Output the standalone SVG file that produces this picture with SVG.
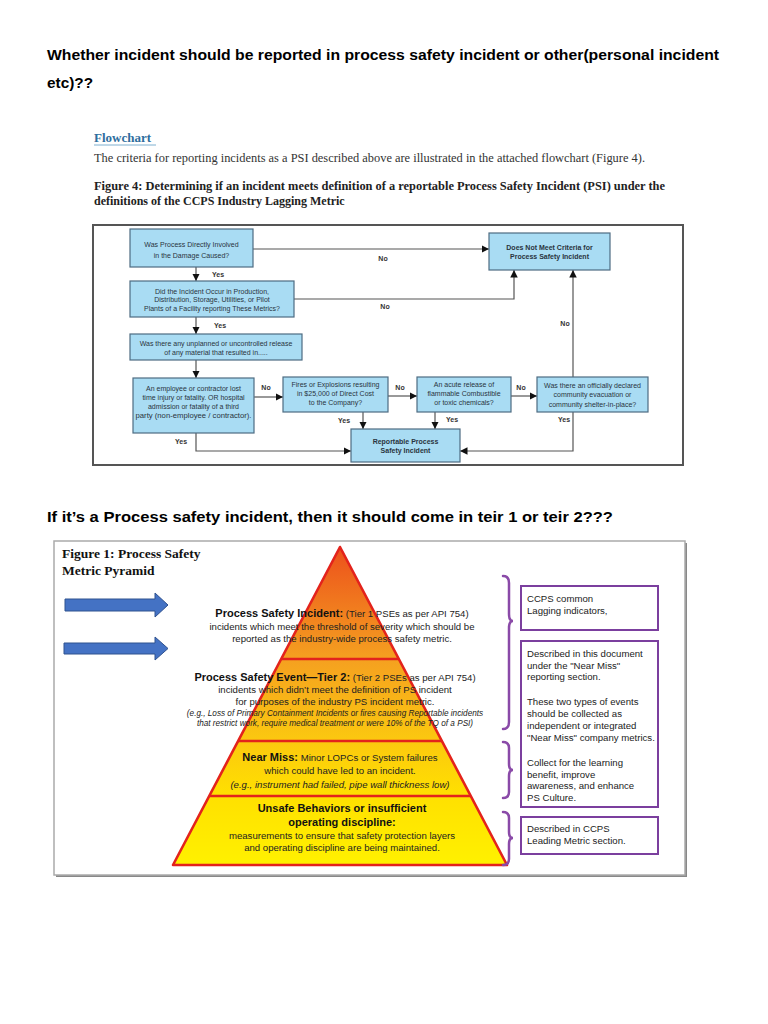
<svg xmlns="http://www.w3.org/2000/svg" width="768" height="1024" viewBox="0 0 768 1024">
<style>
.h{font-family:"Liberation Sans",Arial,sans-serif;font-weight:bold;font-size:15px;fill:#000}
.ser{font-family:"Liberation Serif","Times New Roman",serif}
.box{fill:#a9dcf3;stroke:#4e6c82;stroke-width:1.2}
.bt{font-family:"Liberation Sans",Arial,sans-serif;font-size:7px;fill:#2a3440;text-anchor:middle}
.bb{font-weight:bold}
.lbl{font-family:"Liberation Sans",Arial,sans-serif;font-size:7px;font-weight:bold;fill:#333;text-anchor:middle}
.con{fill:none;stroke:#555;stroke-width:1.2}
.pt{font-family:"Liberation Sans",Arial,sans-serif;font-size:9.6px;fill:#222;text-anchor:middle}
.pb{font-weight:bold;font-size:11px;fill:#111}
.pi{font-style:italic;font-size:8.2px}
.pbox{fill:#fff;stroke:#7b3f9e;stroke-width:2}
.brace{fill:none;stroke:#8a4aa8;stroke-width:2.5;stroke-linecap:round}
.rt{font-family:"Liberation Sans",Arial,sans-serif;font-size:9.6px;fill:#222}
.red{stroke:#e3231c;stroke-width:2.6}
.barrow{fill:#4472c4;stroke:#2f528f;stroke-width:1}
</style>
<defs>
<marker id="ah" viewBox="0 0 10 10" refX="10" refY="5" markerWidth="7.5" markerHeight="7.5" orient="auto" markerUnits="userSpaceOnUse">
<path d="M0,0 L10,5 L0,10 z" fill="#111"/>
</marker>
<linearGradient id="pg" gradientUnits="userSpaceOnUse" x1="0" y1="547" x2="0" y2="865">
<stop offset="0" stop-color="#ec501c"/>
<stop offset="0.35" stop-color="#f5a020"/>
<stop offset="0.6" stop-color="#fbc710"/>
<stop offset="0.78" stop-color="#ffe000"/>
<stop offset="1" stop-color="#fff100"/>
</linearGradient>
</defs>
<rect width="768" height="1024" fill="#fff"/>

<text class="h" x="47" y="60" textLength="672" lengthAdjust="spacingAndGlyphs">Whether incident should be reported in process safety incident or other(personal incident</text>
<text class="h" x="47" y="88" textLength="46" lengthAdjust="spacingAndGlyphs">etc)??</text>

<text class="ser" x="94" y="142" font-size="13" font-weight="bold" fill="#2e6e9e">Flowchart</text>
<line x1="94" y1="145" x2="156" y2="145" stroke="#7fb0d0" stroke-width="1"/>
<text class="ser" x="94" y="162" font-size="12" fill="#333" textLength="551" lengthAdjust="spacingAndGlyphs">The criteria for reporting incidents as a PSI described above are illustrated in the attached flowchart (Figure 4).</text>
<text class="ser" x="94" y="190" font-size="12" font-weight="bold" fill="#222" textLength="571" lengthAdjust="spacingAndGlyphs">Figure 4: Determining if an incident meets definition of a reportable Process Safety Incident (PSI) under the</text>
<text class="ser" x="94" y="205" font-size="12" font-weight="bold" fill="#222">definitions of the CCPS Industry Lagging Metric</text>

<rect x="93" y="225" width="590" height="240" fill="#fff" stroke="#555" stroke-width="2"/>

<g id="connectors">
<path class="con" d="M253,249 H489" marker-end="url(#ah)"/>
<path class="con" d="M294,299 H514 V270" marker-end="url(#ah)"/>
<path class="con" d="M196,267 V281" marker-end="url(#ah)"/>
<path class="con" d="M196,317 V334" marker-end="url(#ah)"/>
<path class="con" d="M196,360 V378" marker-end="url(#ah)"/>
<path class="con" d="M254,397 H283" marker-end="url(#ah)"/>
<path class="con" d="M388,396 H417" marker-end="url(#ah)"/>
<path class="con" d="M511,396 H537" marker-end="url(#ah)"/>
<path class="con" d="M573,377 V270" marker-end="url(#ah)"/>
<path class="con" d="M363,412 V429" marker-end="url(#ah)"/>
<path class="con" d="M435,412 V429" marker-end="url(#ah)"/>
<path class="con" d="M196,433 V451 H351" marker-end="url(#ah)"/>
<path class="con" d="M573,412 V451 H460" marker-end="url(#ah)"/>
<text class="lbl" x="218" y="277">Yes</text>
<text class="lbl" x="383" y="261">No</text>
<text class="lbl" x="220" y="328">Yes</text>
<text class="lbl" x="385" y="309">No</text>
<text class="lbl" x="266" y="390">No</text>
<text class="lbl" x="400" y="390">No</text>
<text class="lbl" x="521" y="390">No</text>
<text class="lbl" x="565" y="326">No</text>
<text class="lbl" x="344" y="423">Yes</text>
<text class="lbl" x="452" y="422">Yes</text>
<text class="lbl" x="181" y="444">Yes</text>
<text class="lbl" x="564" y="422">Yes</text>
</g>

<g id="n1"><rect class="box" x="130" y="229" width="123" height="38"/>
<text class="bt" x="191.5" y="247">Was Process Directly Involved</text>
<text class="bt" x="191.5" y="257.5">in the Damage Caused?</text></g>
<g id="n2"><rect class="box" x="130" y="281" width="164" height="36"/>
<text class="bt" x="212" y="293.5">Did the Incident Occur in Production,</text>
<text class="bt" x="212" y="302">Distribution, Storage, Utilities,  or Pilot</text>
<text class="bt" x="212" y="310.5">Plants of a Facility reporting These Metrics?</text></g>
<g id="n3"><rect class="box" x="130" y="334" width="172" height="26"/>
<text class="bt" x="216" y="345.5">Was there any unplanned or uncontrolled release</text>
<text class="bt" x="216" y="354.5">of any material that resulted in.....</text></g>
<g id="n4"><rect class="box" x="133" y="378" width="121" height="55"/>
<text class="bt" x="193.5" y="390.5">An employee or contractor lost</text>
<text class="bt" x="193.5" y="399.5">time injury or fatality. OR hospital</text>
<text class="bt" x="193.5" y="408.5">admission or fatality of a third</text>
<text class="bt" x="193.5" y="417.5" textLength="116" lengthAdjust="spacingAndGlyphs">party (non-employee / contractor).</text></g>
<g id="n5"><rect class="box" x="283" y="377" width="105" height="35"/>
<text class="bt" x="335.5" y="386.5">Fires or Explosions resulting</text>
<text class="bt" x="335.5" y="395.5">in $25,000 of Direct Cost</text>
<text class="bt" x="335.5" y="404.5">to the Company?</text></g>
<g id="n6"><rect class="box" x="417" y="377" width="94" height="35"/>
<text class="bt" x="464" y="386.5">An acute release of</text>
<text class="bt" x="464" y="395.5">flammable Combustible</text>
<text class="bt" x="464" y="404.5">or toxic chemicals?</text></g>
<g id="n7"><rect class="box" x="537" y="377" width="111" height="35"/>
<text class="bt" x="592.5" y="387.5">Was there an officially declared</text>
<text class="bt" x="592.5" y="397">community evacuation or</text>
<text class="bt" x="592.5" y="406.5">community shelter-in-place?</text></g>
<g id="n8"><rect class="box" x="351" y="429" width="109" height="33"/>
<text class="bt bb" x="405.5" y="443.5">Reportable Process</text>
<text class="bt bb" x="405.5" y="452.5">Safety Incident</text></g>
<g id="n9"><rect class="box" x="489" y="233" width="121" height="37"/>
<text class="bt bb" x="549.5" y="249.5">Does Not Meet Criteria for</text>
<text class="bt bb" x="549.5" y="258.5">Process Safety Incident</text></g>

<text class="h" x="47" y="522" textLength="566" lengthAdjust="spacingAndGlyphs">If it’s a Process safety incident, then it should come in teir 1 or teir 2???</text>

<rect x="56" y="543" width="631" height="334" fill="#888"/>
<rect x="54" y="541" width="631" height="334" fill="#fff" stroke="#aaa" stroke-width="1.5"/>
<text class="ser" x="62" y="558" font-size="13.5" font-weight="bold" fill="#111">Figure 1:  Process Safety</text>
<text class="ser" x="62" y="575" font-size="13.5" font-weight="bold" fill="#111">Metric Pyramid</text>

<polygon class="barrow" points="65,599 155,599 155,593 168,605 155,617 155,611 65,611"/>
<polygon class="barrow" points="64,643 155,643 155,637 168,648.5 155,660 155,654 64,654"/>

<g id="pyramid">
<polygon points="340,547 507,865 173,865" fill="url(#pg)" stroke="#e3231c" stroke-width="2.6" stroke-linejoin="round"/>
<line class="red" x1="281.5" y1="659" x2="398.5" y2="659"/>
<line class="red" x1="238.3" y1="741" x2="441.7" y2="741"/>
<line class="red" x1="209.4" y1="796" x2="470.6" y2="796"/>
</g>

<g id="tier1">
<text class="pt" x="342" y="617"><tspan class="pb">Process Safety Incident:</tspan> (Tier 1 PSEs as per API 754)</text>
<text class="pt" x="342" y="630">incidents which meet the threshold of severity which should be</text>
<text class="pt" x="342" y="642">reported as the industry-wide process safety metric.</text>
</g>
<g id="tier2">
<text class="pt" x="335" y="681"><tspan class="pb">Process Safety Event—Tier 2:</tspan> (Tier 2 PSEs as per API 754)</text>
<text class="pt" x="335" y="693">incidents which didn’t meet the definition of PS incident</text>
<text class="pt" x="335" y="705">for purposes of the industry PS incident metric.</text>
<text class="pt pi" x="335" y="716">(e.g., Loss of Primary Containment Incidents or fires causing Reportable incidents</text>
<text class="pt pi" x="335" y="726">that restrict work, require medical treatment or were 10% of the TQ of a PSI)</text>
</g>
<g id="nearmiss">
<text class="pt" x="340" y="761"><tspan class="pb">Near Miss:</tspan> Minor LOPCs or System failures</text>
<text class="pt" x="340" y="774">which could have led to an incident.</text>
<text class="pt" x="340" y="788" font-style="italic">(e.g., instrument had failed, pipe wall thickness low)</text>
</g>
<g id="unsafe">
<text class="pt pb" x="342" y="812">Unsafe Behaviors or insufficient</text>
<text class="pt pb" x="342" y="826">operating discipline:</text>
<text class="pt" x="342" y="839">measurements to ensure that safety protection layers</text>
<text class="pt" x="342" y="851">and operating discipline are being maintained.</text>
</g>

<g id="braces">
<path class="brace" d="M503,576 Q509,576 509,583 L509,614 Q509,621 513,621 Q509,621 509,628 L509,722 Q509,729 503,729"/>
<path class="brace" d="M503,742 Q509,742 509,748 L509,764 Q509,770 513,770 Q509,770 509,776 L509,792 Q509,798 503,798"/>
<path class="brace" d="M503,812 Q509,812 509,818 L509,832 Q509,838 513,838 Q509,838 509,844 L509,859 Q509,865 503,865"/>
</g>

<g id="boxA"><rect class="pbox" x="521" y="586" width="137" height="44"/>
<text class="rt" x="527" y="602">CCPS common</text>
<text class="rt" x="527" y="613.5">Lagging indicators,</text></g>
<g id="boxB"><rect class="pbox" x="521" y="641" width="137" height="166"/>
<text class="rt" x="527" y="657">Described in this document</text>
<text class="rt" x="527" y="668.5">under the "Near Miss"</text>
<text class="rt" x="527" y="680">reporting section.</text>
<text class="rt" x="527" y="705">These two types of events</text>
<text class="rt" x="527" y="717">should be collected as</text>
<text class="rt" x="527" y="729">independent or integrated</text>
<text class="rt" x="527" y="740.5">"Near Miss" company metrics.</text>
<text class="rt" x="527" y="766">Collect for the learning</text>
<text class="rt" x="527" y="777.5">benefit, improve</text>
<text class="rt" x="527" y="789">awareness, and enhance</text>
<text class="rt" x="527" y="801">PS Culture.</text></g>
<g id="boxC"><rect class="pbox" x="521" y="817" width="137" height="37"/>
<text class="rt" x="527" y="832">Described in CCPS</text>
<text class="rt" x="527" y="843.5">Leading Metric section.</text></g>
</svg>
